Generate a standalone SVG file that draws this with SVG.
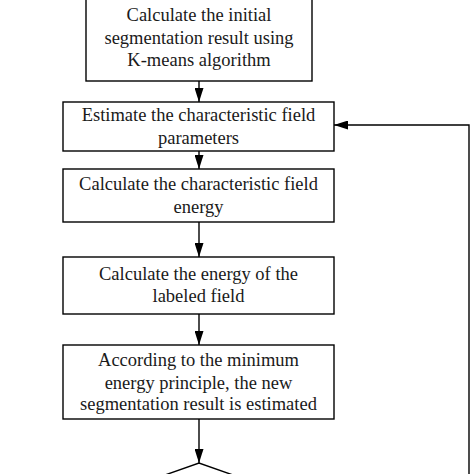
<svg xmlns="http://www.w3.org/2000/svg" width="474" height="474" viewBox="0 0 474 474">
<style>
.box{fill:#fff;stroke:#000;stroke-width:1.4}
.t{font-family:"Liberation Serif","Times New Roman",serif;font-size:18.5px;fill:#1a1a1a;text-anchor:middle}
.c{fill:none;stroke:#000;stroke-width:1.4}
</style>
<defs>
<marker id="ah" markerWidth="14" markerHeight="9" refX="14" refY="4.5" orient="auto" markerUnits="userSpaceOnUse" viewBox="0 0 14 9">
<path d="M0,0 L14,4.5 L0,9 Z" fill="#000"/>
</marker>
</defs>
<rect width="474" height="474" fill="#fff"/>
<g id="n1">
<rect class="box" x="86" y="-10" width="226" height="91"/>
<text class="t" x="199" y="21">Calculate the initial</text>
<text class="t" x="199" y="44">segmentation result using</text>
<text class="t" x="199" y="66">K-means algorithm</text>
</g>
<g id="n2">
<rect class="box" x="63" y="102" width="271" height="49"/>
<text class="t" x="198.5" y="121">Estimate the characteristic field</text>
<text class="t" x="198.5" y="144">parameters</text>
</g>
<g id="n3">
<rect class="box" x="63" y="169" width="271" height="53"/>
<text class="t" x="198.5" y="190">Calculate the characteristic field</text>
<text class="t" x="198.5" y="213">energy</text>
</g>
<g id="n4">
<rect class="box" x="63" y="257" width="271" height="57"/>
<text class="t" x="198.5" y="280">Calculate the energy of the</text>
<text class="t" x="198.5" y="302">labeled field</text>
</g>
<g id="n5">
<rect class="box" x="63" y="345" width="271" height="74"/>
<text class="t" x="198.5" y="366">According to the minimum</text>
<text class="t" x="198.5" y="389">energy principle, the new</text>
<text class="t" x="198.5" y="410">segmentation result is estimated</text>
</g>
<g id="n6">
<path class="box" d="M165,475 L199,463 L233,475"/>
</g>
<g id="connectors">
<line class="c" x1="199" y1="81" x2="199" y2="102" marker-end="url(#ah)"/>
<line class="c" x1="199" y1="151" x2="199" y2="169" marker-end="url(#ah)"/>
<line class="c" x1="199" y1="222" x2="199" y2="257" marker-end="url(#ah)"/>
<line class="c" x1="199" y1="314" x2="199" y2="345" marker-end="url(#ah)"/>
<line class="c" x1="199" y1="419" x2="199" y2="463" marker-end="url(#ah)"/>
<polyline class="c" points="469,480 469,125 334,125" marker-end="url(#ah)"/>
</g>
</svg>
